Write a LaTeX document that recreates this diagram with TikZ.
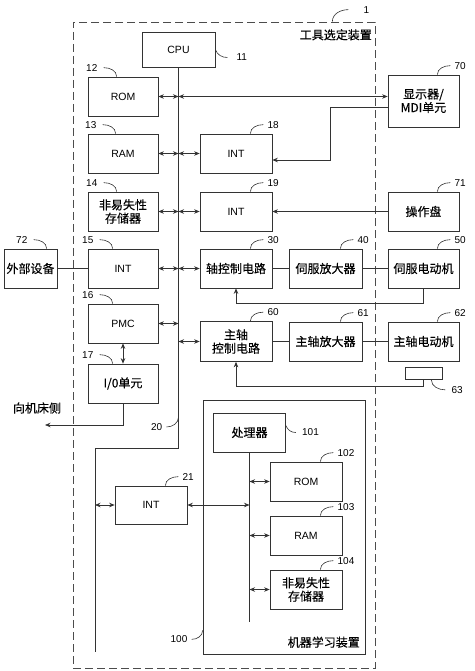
\documentclass[tikz,border=0pt]{standalone}
\usepackage{fontspec}
\setmainfont{Liberation Sans}
\newfontfamily\cjk{Noto Sans CJK SC}[FakeBold=0.3]
\usetikzlibrary{positioning,arrows.meta}

\begin{document}
\begin{tikzpicture}[x=1pt, y=1pt, node distance=57pt, font=\fontsize{10.5}{12.5}\selectfont]
    % Define styles
    \tikzstyle{unit}=[rectangle, draw=black!80, line width=0.7pt, minimum width=70pt, minimum height=39pt, inner sep=1pt, align=center]
    \tikzstyle{zh}=[font=\cjk\fontsize{12}{13.5}\selectfont]
    \tikzstyle{num}=[font=\fontsize{10}{12}\selectfont, inner sep=1pt]
    \tikzstyle{wire}=[draw=black!80, line width=0.7pt]
    \tikzstyle{arrow}=[wire, -{Stealth[length=5.5pt, width=4.5pt]}]
    \tikzstyle{twoway}=[wire, {Stealth[length=5.5pt, width=4.5pt]}-{Stealth[length=5.5pt, width=4.5pt]}]
    \tikzstyle{lead}=[draw=black!80, line width=0.6pt]

    \useasboundingbox (0,0) rectangle (474,-671);

    % Tool selection device
    \node[draw=black!70, line width=0.7pt, dash pattern=on 8pt off 4pt, minimum width=302pt, minimum height=646pt] (tool1) at (224,-345) {};
    \node[zh, anchor=north east] (title1) at ([yshift=-4pt]tool1.north east) {工具选定装置};

    % Main units
    \node[unit, minimum width=73pt, minimum height=35pt] (cpu) at (178.5,-49.5) {CPU};
    \node[unit] (rom12) at (123,-96.5) {ROM};
    \node[unit] (ram13) [below of=rom12] {RAM};
    \node[unit, zh] (nvm14) [below of=ram13, yshift=-1pt] {非易失性\\存储器};
    \node[unit] (int15) [below of=nvm14] {INT};
    \node[unit] (pmc16) [below of=int15, yshift=2pt] {PMC};
    \node[unit, zh] (io17) [below of=pmc16, yshift=-3pt] {I/0单元};

    % Interfaces and axis control
    \node[unit, minimum width=72pt] (int18) [node distance=113pt, right of=ram13] {INT};
    \node[unit, minimum width=72pt] (int19) [node distance=113pt, right of=nvm14] {INT};
    \node[unit, minimum width=72pt, zh] (axis30) [node distance=113pt, right of=int15] {轴控制电路};
    \node[unit, minimum width=73pt, zh] (amp40) [node distance=89.5pt, right of=axis30] {伺服放大器};
    \node[unit, minimum width=71pt, zh] (motor50) [node distance=98pt, right of=amp40] {伺服电动机};
    \node[unit, minimum width=72pt, minimum height=40pt, zh] (spc60) [below of=axis30, yshift=-16pt] {主轴\\控制电路};
    \node[unit, minimum width=73pt, zh] (samp61) [node distance=89.5pt, right of=spc60] {主轴放大器};
    \node[unit, minimum width=71pt, zh] (smotor62) [node distance=98pt, right of=samp61] {主轴电动机};
    \node[draw=black!80, line width=0.7pt, minimum width=37pt, minimum height=12pt, inner sep=0pt] (enc63) [node distance=32pt, below of=smotor62] {};

    % Peripherals
    \node[unit, minimum width=71pt, zh] (panel71) [node distance=187.5pt, right of=int19] {操作盘};
    \node[unit, minimum width=71pt, minimum height=52pt, zh] (disp70) [node distance=110.5pt, above of=panel71] {显示器/\\MDI单元};
    \node[unit, minimum width=53pt, zh] (ext72) [node distance=92.5pt, left of=int15] {外部设备};

    % Machine learning device
    \node[draw=black!80, line width=0.7pt, minimum width=162pt, minimum height=254pt] (ml100) at (284,-527) {};
    \node[zh, anchor=south east] (title100) at ([xshift=-2pt, yshift=3pt]ml100.south east) {机器学习装置};
    \node[unit, minimum width=72pt, zh] (proc101) at (249.5,-432.5) {处理器};
    \node[unit, minimum width=72pt] (rom102) at (306,-481.5) {ROM};
    \node[unit, minimum width=72pt] (ram103) [node distance=54pt, below of=rom102] {RAM};
    \node[unit, minimum width=72pt, zh] (nvm104) [node distance=54pt, below of=ram103] {非易失性\\存储器};
    \node[unit, minimum width=72pt, minimum height=38pt] (int21) at (151,-505) {INT};

    % Bus lines
    \coordinate (busbend) at (178.5,-448);
    \coordinate (buslow) at (95,-448);
    \coordinate (busend) at (95,-652);
    \coordinate (mlbusend) at (249.5,-622);
    \draw[wire] (cpu.south) -- (busbend) -- (buslow) -- (busend);
    \draw[wire] (proc101.south) -- (mlbusend);

    % Connections
    \draw[twoway] (rom12) -- (rom12 -| cpu.south);
    \draw[twoway] (rom12 -| cpu.south) -- (rom12 -| disp70.west);
    \draw[twoway] (ram13) -- (ram13 -| cpu.south);
    \draw[twoway] (ram13 -| cpu.south) -- (int18);
    \draw[twoway] (nvm14) -- (nvm14 -| cpu.south);
    \draw[twoway] (nvm14 -| cpu.south) -- (int19);
    \draw[twoway] (int15) -- (int15 -| cpu.south);
    \draw[twoway] (int15 -| cpu.south) -- (axis30);
    \draw[twoway] (pmc16) -- (pmc16 -| cpu.south);
    \draw[twoway] (spc60 -| cpu.south) -- (spc60);
    \draw[twoway] (pmc16) -- (io17);
    \draw[arrow] ([yshift=-6pt]disp70.west) -- ++(-57,0) |- ([yshift=-6.5pt]int18.east);
    \draw[arrow] (panel71) -- (int19);
    \draw[wire] (ext72) -- (int15);
    \draw[wire] (axis30) -- (amp40) -- (motor50);
    \draw[arrow] (motor50.south) -- ++(0,-15) -| (axis30.south);
    \draw[wire] (spc60) -- (samp61) -- (smotor62);
    \draw[arrow] (enc63.south) -- ++(0,-6.5) -| (spc60.south);
    \coordinate (machine) at (45,-425);
    \draw[arrow] (io17.south) |- (machine);
    \node[zh] (side) at (37,-408) {向机床侧};
    \draw[twoway] (int21 -| busend) -- (int21);
    \draw[twoway] (int21) -- (int21 -| proc101.south);
    \draw[twoway] (rom102 -| proc101.south) -- (rom102);
    \draw[twoway] (ram103 -| proc101.south) -- (ram103);
    \draw[twoway] (nvm104 -| proc101.south) -- (nvm104);

    % Reference numerals
    \foreach \b/\n in {int18/18, int19/19, axis30/30, amp40/40, motor50/50, spc60/60, samp61/61, smotor62/62, disp70/70, panel71/71, rom102/102, ram103/103, nvm104/104, int21/21}
        \draw[lead] ([xshift=-22pt]\b.north east) to[out=90, in=180] ++(13,9) node[num, anchor=west, xshift=3pt] (tag\n) {\n};
    \foreach \b/\n/\d in {rom12/12/29, ram13/13/28, nvm14/14/29, int15/15/25, pmc16/16/25, io17/17/25, ext72/72/43}
        \draw[lead] ([xshift=\d pt]\b.north west) to[out=90, in=0] ++(-13,9) node[num, anchor=east, xshift=-5pt] (tag\n) {\n};
    \draw[lead] (cpu.east) to[out=-70, in=180] ++(12,-8) node[num, anchor=west, xshift=8pt] (tag11) {11};
    \draw[lead] ([yshift=7pt]proc101.east) to[out=-70, in=180] ++(10,-7) node[num, anchor=west, xshift=5pt] (tag101) {101};
    \draw[lead] ([xshift=-11pt]enc63.south east) to[out=-90, in=180] ++(14,-10) node[num, anchor=west, xshift=5pt] (tag63) {63};
    \draw[lead] (busbend) ++(0,31) to[out=-90, in=0] ++(-12,-10) node[num, anchor=east, xshift=-3pt] (tag20) {20};
    \draw[lead] ([yshift=24pt]ml100.south west) to[out=-90, in=0] ++(-11,-9) node[num, anchor=east, xshift=-3pt] (tag100) {100};
    \draw[lead] ([xshift=-43pt]tool1.north east) to[out=90, in=180] ++(16,12) node[num, anchor=west, xshift=14pt] (tag1) {1};
\end{tikzpicture}
\end{document}
